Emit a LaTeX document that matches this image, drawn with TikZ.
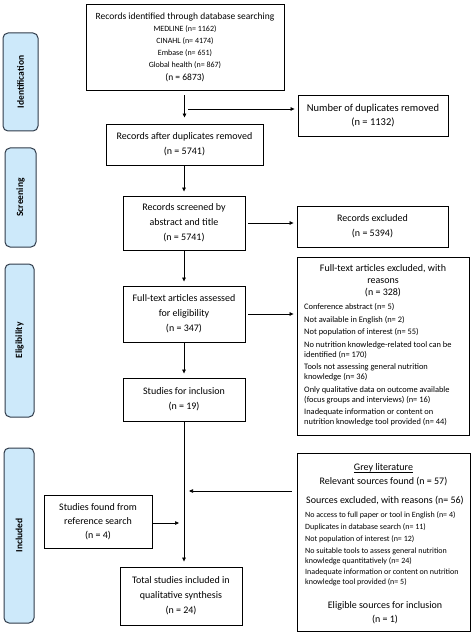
\documentclass[tikz,border=0pt]{standalone}
\usepackage{fontspec}
\setmainfont{Carlito}
\usepackage{graphicx}
\usetikzlibrary{arrows.meta}
\definecolor{stageblue}{HTML}{CDE9FA}
\definecolor{stageedge}{HTML}{2F3B4A}
\begin{document}
\begin{tikzpicture}[x=1pt,y=-1pt,
  box/.style={draw, line width=0.9pt, align=center, inner sep=0pt, font=\fontsize{10}{15}\selectfont},
  stage/.style={draw=stageedge, fill=stageblue, rounded corners=5pt, line width=1pt, inner sep=0pt, font=\bfseries\fontsize{9.5}{10}\selectfont},
  arr/.style={-{Triangle[length=4pt,width=3.5pt]}, line width=0.7pt},
  lst/.style={align=left, inner sep=0pt, anchor=west},
  txt/.style={align=center, inner sep=0pt},
]
\useasboundingbox (0,0) rectangle (474,636);

% stage labels
\node[stage, minimum width=35, minimum height=98] (sid) at (20.5,82) {\rotatebox{90}{Identification}};
\node[stage, minimum width=31, minimum height=99] (ssc) at (20.5,197.5) {\rotatebox{90}{Screening}};
\node[stage, minimum width=29, minimum height=153] (sel) at (19.5,340.5) {\rotatebox{90}{Eligibility}};
\node[stage, minimum width=30, minimum height=175] (sin) at (19,535.5) {\rotatebox{90}{Included}};

% main boxes
\node[box, minimum width=198, minimum height=86, font=\fontsize{8}{12.2}\selectfont] (ident) at (185,47)
  {{\fontsize{9.5}{12}\selectfont Records identified through database searching}\\
   MEDLINE (n= 1162)\\CINAHL (n= 4174)\\Embase (n= 651)\\Global health (n= 867)\\
   {\fontsize{9.5}{12}\selectfont (n = 6873)}};
\node[box, minimum width=150, minimum height=41, font=\fontsize{10.5}{14.5}\selectfont] (dup) at (373,115.5)
  {Number of duplicates removed\\(n = 1132)};
\node[box, minimum width=157, minimum height=41] (afterdup) at (184.5,144.5)
  {Records after duplicates removed\\(n = 5741)};
\node[box, minimum width=122, minimum height=54] (screened) at (184,223)
  {Records screened by\\abstract and title\\(n = 5741)};
\node[box, minimum width=151, minimum height=41] (recexcl) at (372.5,226.5)
  {Records excluded\\(n = 5394)};
\node[box, minimum width=122, minimum height=56] (fulltext) at (184,314)
  {Full-text articles assessed\\for eligibility\\(n = 347)};
\node[box, minimum width=172, minimum height=178] (ftexcl) at (383,346) {};
\node[txt, font=\fontsize{10}{12}\selectfont] (fttitle) at (383,281)
  {Full-text articles excluded, with\\reasons\\(n = 328)};
\node[lst, font=\fontsize{8.4}{10}\selectfont] (ftlist) at (304,365)
  {Conference abstract (n= 5)\\[2.5pt]
   Not available in English (n= 2)\\[2.5pt]
   Not population of interest (n= 55)\\[2.5pt]
   No nutrition knowledge-related tool can be\\
   identified (n= 170)\\[2.5pt]
   Tools not assessing general nutrition\\
   knowledge (n= 36)\\[2.5pt]
   Only qualitative data on outcome available\\
   (focus groups and interviews) (n= 16)\\[2.5pt]
   Inadequate information or content on\\
   nutrition knowledge tool provided (n= 44)};
\node[box, minimum width=122, minimum height=43] (incl) at (184,399.5)
  {Studies for inclusion\\(n = 19)};
\node[box, minimum width=108, minimum height=53, font=\fontsize{10}{14}\selectfont] (refsearch) at (98,521.5)
  {Studies found from\\reference search\\(n = 4)};
\node[box, minimum width=122, minimum height=58] (total) at (181,596)
  {Total studies included in\\qualitative synthesis\\(n = 24)};
\node[box, minimum width=173, minimum height=178] (grey) at (383.5,542) {};
\node[txt, font=\fontsize{10}{12}\selectfont] (greyhead) at (383.5,468) {Grey literature};
\draw[line width=0.6pt] ([yshift=-1.8pt]greyhead.base west) -- ([yshift=-1.8pt]greyhead.base east);
\node[txt, font=\fontsize{10}{12}\selectfont] (greyfound) at (383.5,481.5) {Relevant sources found (n = 57)};
\node[txt, font=\fontsize{10}{12}\selectfont] (greysub) at (385,501)
  {Sources excluded, with reasons (n= 56)};
\node[lst, font=\fontsize{8}{9.8}\selectfont] (greylist) at (305,549)
  {No access to full paper or tool in English (n= 4)\\[2pt]
   Duplicates in database search (n= 11)\\[2pt]
   Not population of interest (n= 12)\\[2pt]
   No suitable tools to assess general nutrition\\
   knowledge quantitatively (n= 24)\\[2pt]
   Inadequate information or content on nutrition\\
   knowledge tool provided (n= 5)};
\node[txt, font=\fontsize{10}{14}\selectfont] (greyelig) at (385,613)
  {Eligible sources for inclusion\\(n = 1)};

% junction points on the main flow line
\coordinate (dupsplit) at (184,109);
\coordinate (greyjoin) at (184,491);
\coordinate (refjoin) at (184,523);

% connectors
\draw[arr, shorten <=5pt, shorten >=6pt] (ident.south -| afterdup.north) -- (afterdup.north);
\draw[arr, shorten <=4pt, shorten >=3pt] (dupsplit) -- (dup.west |- dupsplit);
\draw[arr, shorten >=4pt] (afterdup.south -| screened.north) -- (screened.north);
\draw[arr, shorten <=3pt, shorten >=3pt] (screened.east) -- (recexcl.west |- screened.east);
\draw[arr, shorten >=4pt] (screened.south) -- (fulltext.north);
\draw[arr, shorten <=3pt, shorten >=3pt] (fulltext.east) -- (ftexcl.west |- fulltext.east);
\draw[arr, shorten >=4pt] (fulltext.south) -- (incl.north);
\draw[arr, shorten >=5pt] (incl.south) -- (incl.south |- total.north);
\draw[arr, shorten <=5pt, shorten >=5pt] (grey.west |- greyjoin) -- (greyjoin);
\draw[arr, shorten >=5pt] (refsearch.east |- refjoin) -- (refjoin);
\end{tikzpicture}
\end{document}
